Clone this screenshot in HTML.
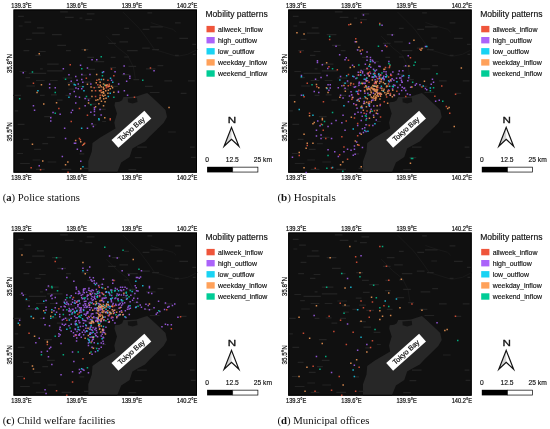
<!DOCTYPE html>
<html lang="en"><head><meta charset="utf-8"><title>Mobility patterns around public facilities</title>
<style>
html,body{margin:0;padding:0;background:#fff}
body{width:550px;height:429px;overflow:hidden}
svg{display:block}
.ax{font-family:"Liberation Sans",Arial,sans-serif;font-size:6.4px;fill:#111;stroke:#111;stroke-width:.2px}
.lt{font-family:"Liberation Sans",Arial,sans-serif;font-size:8.55px;fill:#111;stroke:#111;stroke-width:.15px}
.ll{font-family:"Liberation Sans",Arial,sans-serif;font-size:6.95px;fill:#111;stroke:#111;stroke-width:.15px}
.sb{font-family:"Liberation Sans",Arial,sans-serif;font-size:6.7px;fill:#111;stroke:#111;stroke-width:.15px}
.nn{font-family:"Liberation Sans",Arial,sans-serif;font-size:10.4px;fill:#111;stroke:#111;stroke-width:.35px}
.tb{font-family:"Liberation Sans",Arial,sans-serif;font-size:7.2px;fill:#111;stroke:#111;stroke-width:.2px}
.cap{font-family:"Liberation Serif","DejaVu Serif",serif;font-size:10.2px;fill:#111}
.cap tspan{font-weight:bold}
</style></head><body>
<svg width="550" height="429" viewBox="0 0 550 429">
<rect width="550" height="429" fill="#fff"/>
<defs>
<g id="base">
<rect x="0" y="0" width="183.5" height="163.2" fill="#101010"/>
<polygon fill="#272727" points="110,87.6 115.2,87.6 122.8,86.9 130.4,84.4 133.7,83.6 138,87.2 146.8,95.5 152,100.5 153.5,107.4 150.2,113.2 142.9,120.5 136.4,126.8 131.5,132.1 125.9,134.9 118.9,139.1 116.1,147.5 107.7,153.1 103.5,163.2 74.8,163.2 74.8,151.7 78.3,141.9 79,133.5 86.7,127.9 96.5,122.2 102,119 100.8,113 103.5,104 101,96 101.5,92.8 105.9,92.2 108.6,90.8"/>
<polyline fill="none" stroke="#1c1c1c" stroke-width="0.7" points="109.2,2.4 117.9,11.1 125.7,18.8 134.4,30.4 141.1,40.1 150.8,43 163.4,46.9 174,44.9 183.7,40.1"/>
<polyline fill="none" stroke="#1c1c1c" stroke-width="0.7" points="137.3,13 148.9,16.9 159.5,19.8 162.4,22.7"/>
<polyline fill="none" stroke="#1c1c1c" stroke-width="0.7" points="92.8,26.6 104.4,38.2 114.1,45.9 119.9,57.5 121.8,69.1"/>
<path fill="#232323" d="M4.6 6.2h5.8v1.2h-5.8zM10.9 12h6.8v1.2h-6.8zM5.2 15.9h3.9v1.2h-3.9zM23.5 17.8h6.8v1.2h-6.8zM18.7 23.1h12.6v1.2h-12.6zM12.4 29.3h5.8v1.2h-5.8zM46.6 1.8h7.7v1.2h-7.7zM51.5 7.2h8.7v1.2h-8.7zM66 8h2.9v1.2h-2.9zM73.3 3.7h7.7v1.2h-7.7zM71.8 9.5h6.8v1.2h-6.8zM38.5 24.6h9.7v1.2h-9.7zM43.8 35.2h8.7v1.2h-8.7zM10 40.5h5.8v1.2h-5.8zM25.4 41.4h6.8v1.2h-6.8zM21.8 45.3h5.4v1.2h-5.4zM52.5 40.5h4.8v1.2h-4.8zM68 39.5h6.8v1.2h-6.8zM33.6 54h11.6v1.2h-11.6zM73.8 47.2h6.8v1.2h-6.8zM81 51.5h9.7v1.2h-9.7zM6.1 61.4h6.8v1.2h-6.8zM15.3 63.3h17.4v1.2h-17.4zM33.6 60.8h15.5v1.2h-15.5zM26.4 58.8h2.9v1.2h-2.9zM74.7 59.2h6.8v1.2h-6.8zM11.9 67.5h4.8v1.2h-4.8zM22.5 70.4h8.7v1.2h-8.7zM36.5 70.4h7.7v1.2h-7.7zM49.1 67.9h9.7v1.2h-9.7zM67.5 65h5.8v1.2h-5.8zM12.9 75.9h8.7v1.2h-8.7zM70.9 72h6.8v1.2h-6.8zM53.9 72.8h7.7v1.2h-7.7zM78.1 77.2h7.7v1.2h-7.7zM64.1 76.2h6.8v1.2h-6.8zM54.9 79.1h5.8v1.2h-5.8zM133.9 2.8h4.8v1.2h-4.8zM161.4 12.8h5.8v1.2h-5.8zM110.7 18.2h4.8v1.2h-4.8zM136.8 16.7h12.6v1.2h-12.6zM129.1 19.2h6.8v1.2h-6.8zM98.6 24.6h7.7v1.2h-7.7zM143.1 27.9h5.8v1.2h-5.8zM165.8 28.3h8.7v1.2h-8.7zM105.9 31.8h8.7v1.2h-8.7zM94.7 33.3h7.7v1.2h-7.7zM113.6 40.5h10.6v1.2h-10.6zM128.6 38.1h7.7v1.2h-7.7zM138.7 39.5h6.8v1.2h-6.8zM178.8 34.3h3.9v1.2h-3.9zM161.4 45.3h3.9v1.2h-3.9zM110.7 46.9h4.8v1.2h-4.8zM97.2 47.2h4.8v1.2h-4.8zM179.3 44.3h2.9v1.2h-2.9zM144 55.6h5.8v1.2h-5.8zM115 56.3h7.7v1.2h-7.7zM132.4 58.8h9.7v1.2h-9.7zM96.7 57.5h5.8v1.2h-5.8zM108.3 64.6h7.7v1.2h-7.7zM150.8 70.8h7.7v1.2h-7.7zM174.5 70.8h6.8v1.2h-6.8zM119.9 69.5h5.8v1.2h-5.8zM98.6 76.2h5.8v1.2h-5.8zM131.5 76.2h7.7v1.2h-7.7zM-0.2 85.2h7.7v1.2h-7.7zM26.4 85.2h4.8v1.2h-4.8zM37.5 84.8h5.8v1.2h-5.8zM52 85.2h5.8v1.2h-5.8zM43.3 90h5.8v1.2h-5.8zM70.9 88.6h6.8v1.2h-6.8zM75.2 94h7.7v1.2h-7.7zM0.8 100.8h3.9v1.2h-3.9zM85.4 99.3h6.8v1.2h-6.8zM30.7 106.6h7.7v1.2h-7.7zM88.7 111.4h3.9v1.2h-3.9zM4.2 114.2h6.8v1.2h-6.8zM77.1 114.7h5.8v1.2h-5.8zM33.6 127.3h7.7v1.2h-7.7zM9.5 129.2h5.8v1.2h-5.8zM28.8 133.5h5.8v1.2h-5.8zM20.6 139.3h6.8v1.2h-6.8zM3.7 143.4h5.8v1.2h-5.8zM66 143.7h4.8v1.2h-4.8zM19.1 149.9h7.7v1.2h-7.7zM34.1 151.9h8.7v1.2h-8.7zM6.6 153.4h9.7v1.2h-9.7zM22.5 159.2h8.7v1.2h-8.7zM48.1 159.2h9.7v1.2h-9.7zM70.4 158.2h5.8v1.2h-5.8zM136.3 82.4h9.7v1.2h-9.7zM167.2 83.2h5.8v1.2h-5.8zM154.7 121.9h7.7v1.2h-7.7zM123.7 137h9.7v1.2h-9.7zM176.4 137h4.8v1.2h-4.8zM121.3 147.6h6.8v1.2h-6.8zM177.4 147.2h4.8v1.2h-4.8zM115 159.6h7.7v1.2h-7.7z"/>
<polygon fill="#131313" points="114.3,89 123.5,88.2 124,92.6 119,93.9 114.5,92.8"/>
<rect x="0.5" y="0.5" width="182.5" height="162.2" fill="none" stroke="#000" stroke-width="1"/>
</g>
<g id="side">
<text class="lt" x="192" y="7.8">Mobility patterns</text>
<rect x="193" y="16.4" width="8.2" height="6.4" fill="#EF553B"/><text class="ll" x="204.5" y="22">allweek_inflow</text>
<rect x="193" y="27.5" width="8.2" height="6.4" fill="#AB63FA"/><text class="ll" x="204.5" y="33.1">high_outflow</text>
<rect x="193" y="38.6" width="8.2" height="6.4" fill="#19D3F3"/><text class="ll" x="204.5" y="44.2">low_outflow</text>
<rect x="193" y="49.7" width="8.2" height="6.4" fill="#FFA15A"/><text class="ll" x="204.5" y="55.3">weekday_inflow</text>
<rect x="193" y="60.8" width="8.2" height="6.4" fill="#00CC96"/><text class="ll" x="204.5" y="66.4">weekend_inflow</text>
<text class="nn" transform="translate(218.5,113.2) scale(1.12,0.95)" text-anchor="middle">N</text>
<polygon points="218,117.9 210.6,136.7 218,129.9" fill="#d6d6d6"/>
<polygon points="218,117.9 225.4,136.7 218,129.9 210.6,136.7" fill="none" stroke="#111" stroke-width="1.2" stroke-linejoin="miter" stroke-miterlimit="10"/>
<rect x="193.6" y="157.3" width="25.6" height="5.6" fill="#000"/>
<rect x="219.2" y="157.65" width="25.2" height="4.9" fill="#fff" stroke="#000" stroke-width="0.7"/>
<text class="sb" x="193.7" y="152.5" text-anchor="middle">0</text><text class="sb" x="218.8" y="152.5" text-anchor="middle">12.5</text><text class="sb" x="240.3" y="152.5">25 km</text>
</g>
</defs>
<g transform="translate(13.5,9.5)">
<use href="#base"/>
<path fill="#AB63FA" fill-opacity="0.82" d="M77.8 49.4h1.5v1.5h-1.5zM82.5 49.4h1.5v1.5h-1.5zM49.1 58.6h1.5v1.5h-1.5zM9 62.5h1.5v1.5h-1.5zM54.7 64.4h1.5v1.5h-1.5zM57 71h1.5v1.5h-1.5zM35.4 73.9h1.5v1.5h-1.5zM35.4 77.6h1.5v1.5h-1.5zM41 77.6h1.5v1.5h-1.5zM60 81.3h1.5v1.5h-1.5zM55.8 83.5h1.5v1.5h-1.5zM19.2 95.4h1.5v1.5h-1.5zM20.3 100.1h1.5v1.5h-1.5zM38.8 102.2h1.5v1.5h-1.5zM45.9 104h1.5v1.5h-1.5zM58.3 100.1h1.5v1.5h-1.5zM57 102.2h1.5v1.5h-1.5zM36.5 107.6h1.5v1.5h-1.5zM66.3 55.1h1.5v1.5h-1.5zM73.2 57.8h1.5v1.5h-1.5zM89.3 61.5h1.5v1.5h-1.5zM67.6 64.3h1.5v1.5h-1.5zM75.7 64.2h1.5v1.5h-1.5zM61.5 66.2h1.5v1.5h-1.5zM67.5 69.2h1.5v1.5h-1.5zM62.8 70.1h1.5v1.5h-1.5zM68.6 72.1h1.5v1.5h-1.5zM64 73.7h1.5v1.5h-1.5zM76.6 73.7h1.5v1.5h-1.5zM61.7 77.8h1.5v1.5h-1.5zM64 78.6h1.5v1.5h-1.5zM67.5 78.6h1.5v1.5h-1.5zM109.9 55.8h1.5v1.5h-1.5zM100.8 61.6h1.5v1.5h-1.5zM109.7 63.6h1.5v1.5h-1.5zM115.6 66h1.5v1.5h-1.5zM115.6 68.1h1.5v1.5h-1.5zM97.3 70.1h1.5v1.5h-1.5zM112.4 71.1h1.5v1.5h-1.5zM104.4 73.7h1.5v1.5h-1.5zM110.1 80.4h1.5v1.5h-1.5zM104.2 81.2h1.5v1.5h-1.5zM61.5 86.2h1.5v1.5h-1.5zM65.2 87.1h1.5v1.5h-1.5zM70.9 88.2h1.5v1.5h-1.5zM74.3 89.9h1.5v1.5h-1.5zM61.5 92.7h1.5v1.5h-1.5zM70.9 95.6h1.5v1.5h-1.5zM80.2 97.4h1.5v1.5h-1.5zM80.2 99.3h1.5v1.5h-1.5zM85.8 99.3h1.5v1.5h-1.5zM80.2 101.2h1.5v1.5h-1.5zM76.6 102.1h1.5v1.5h-1.5zM80.2 104.8h1.5v1.5h-1.5zM86.9 104.8h1.5v1.5h-1.5zM104.2 82.1h1.5v1.5h-1.5zM113.3 85.1h1.5v1.5h-1.5zM139.8 60.4h1.5v1.5h-1.5zM36.5 110.7h1.5v1.5h-1.5zM50.4 118h1.5v1.5h-1.5zM51.3 128.2h1.5v1.5h-1.5zM60.2 133.1h1.5v1.5h-1.5zM48.1 146.2h1.5v1.5h-1.5zM25 155.5h1.5v1.5h-1.5zM77.8 113.6h1.5v1.5h-1.5zM79.1 116.2h1.5v1.5h-1.5zM73.2 118h1.5v1.5h-1.5zM61.4 133.1h1.5v1.5h-1.5zM63.1 138.9h1.5v1.5h-1.5zM66.5 140.8h1.5v1.5h-1.5zM66.5 151h1.5v1.5h-1.5z"/>
<path fill="#19D3F3" fill-opacity="0.82" d="M60 74.2h1.5v1.5h-1.5zM23.7 80.4h1.5v1.5h-1.5zM54.7 87.1h1.5v1.5h-1.5zM88.2 62.2h1.5v1.5h-1.5zM87.1 69.2h1.5v1.5h-1.5zM61.1 74.7h1.5v1.5h-1.5zM68.7 76.6h1.5v1.5h-1.5zM69.7 80.4h1.5v1.5h-1.5zM96.3 68.1h1.5v1.5h-1.5zM98.5 71.9h1.5v1.5h-1.5zM84.6 108.5h1.5v1.5h-1.5zM96 83.1h1.5v1.5h-1.5zM94.1 86.2h1.5v1.5h-1.5zM84.8 109.4h1.5v1.5h-1.5zM67.4 118h1.5v1.5h-1.5zM68.7 156.4h1.5v1.5h-1.5z"/>
<path fill="#00CC96" fill-opacity="0.82" d="M87 46.5h1.5v1.5h-1.5zM18.2 61.7h1.5v1.5h-1.5zM51.3 69.1h1.5v1.5h-1.5zM41 82.2h1.5v1.5h-1.5zM5.4 88.6h1.5v1.5h-1.5zM41 103.1h1.5v1.5h-1.5zM67.5 58.5h1.5v1.5h-1.5zM88.2 65.5h1.5v1.5h-1.5zM90.5 74.7h1.5v1.5h-1.5zM72.2 86.2h1.5v1.5h-1.5zM76.6 94.5h1.5v1.5h-1.5zM99.6 87.1h1.5v1.5h-1.5zM128.5 70.1h1.5v1.5h-1.5z"/>
<path fill="#EF553B" fill-opacity="0.82" d="M56 54.4h1.5v1.5h-1.5zM19.2 73h1.5v1.5h-1.5zM44.6 98.2h1.5v1.5h-1.5zM72.1 68.1h1.5v1.5h-1.5zM82.6 70.1h1.5v1.5h-1.5zM92.1 74.7h1.5v1.5h-1.5zM80 77.6h1.5v1.5h-1.5zM92.1 77.6h1.5v1.5h-1.5zM81.3 80.4h1.5v1.5h-1.5zM86.9 79.9h1.5v1.5h-1.5zM97.2 58.7h1.5v1.5h-1.5zM99.6 65.4h1.5v1.5h-1.5zM93.7 70.1h1.5v1.5h-1.5zM95 74h1.5v1.5h-1.5zM94.1 76.6h1.5v1.5h-1.5zM81.3 86.2h1.5v1.5h-1.5zM85.9 85h1.5v1.5h-1.5zM65.2 98.2h1.5v1.5h-1.5zM73.2 105h1.5v1.5h-1.5zM120.2 87.1h1.5v1.5h-1.5zM96 108.5h1.5v1.5h-1.5zM136.2 57.8h1.5v1.5h-1.5zM57 111.3h1.5v1.5h-1.5zM16.9 157.4h1.5v1.5h-1.5zM26.3 159.4h1.5v1.5h-1.5zM53.8 161.9h1.5v1.5h-1.5zM96 109.4h1.5v1.5h-1.5zM65.2 128.2h1.5v1.5h-1.5zM66.1 129.5h1.5v1.5h-1.5zM70.4 133.1h1.5v1.5h-1.5zM68.4 135h1.5v1.5h-1.5zM95.2 76h1.5v1.5h-1.5zM83.6 74.4h1.5v1.5h-1.5zM86.5 80.4h1.5v1.5h-1.5zM92.8 76.6h1.5v1.5h-1.5z"/>
<path fill="#FFA15A" fill-opacity="0.82" d="M25 43.6h1.5v1.5h-1.5zM70.7 39.7h1.5v1.5h-1.5zM27.2 74.6h1.5v1.5h-1.5zM54.7 74.6h1.5v1.5h-1.5zM22.8 82.2h1.5v1.5h-1.5zM29.5 93.7h1.5v1.5h-1.5zM42.3 92.4h1.5v1.5h-1.5zM82.4 64.3h1.5v1.5h-1.5zM84.8 69.2h1.5v1.5h-1.5zM89.3 69.2h1.5v1.5h-1.5zM82 72.4h1.5v1.5h-1.5zM85.9 72.1h1.5v1.5h-1.5zM73.2 73.9h1.5v1.5h-1.5zM89.3 73.7h1.5v1.5h-1.5zM76.8 76.8h1.5v1.5h-1.5zM86.9 76.6h1.5v1.5h-1.5zM89.3 78.9h1.5v1.5h-1.5zM77.7 80.4h1.5v1.5h-1.5zM85.3 80.5h1.5v1.5h-1.5zM91.5 80.5h1.5v1.5h-1.5zM93.1 74.7h1.5v1.5h-1.5zM97.3 76h1.5v1.5h-1.5zM98.3 77.6h1.5v1.5h-1.5zM96 78.6h1.5v1.5h-1.5zM94.1 79.9h1.5v1.5h-1.5zM87.2 82.3h1.5v1.5h-1.5zM89.5 83.1h1.5v1.5h-1.5zM77.7 86.2h1.5v1.5h-1.5zM88.2 85h1.5v1.5h-1.5zM90.8 85h1.5v1.5h-1.5zM85.9 87.3h1.5v1.5h-1.5zM89.5 88.6h1.5v1.5h-1.5zM91.8 88h1.5v1.5h-1.5zM81.7 89.9h1.5v1.5h-1.5zM83.6 89.6h1.5v1.5h-1.5zM87.2 90.9h1.5v1.5h-1.5zM90.8 91.6h1.5v1.5h-1.5zM74.3 92.7h1.5v1.5h-1.5zM84.6 93.5h1.5v1.5h-1.5zM89.3 95.5h1.5v1.5h-1.5zM81.3 96.5h1.5v1.5h-1.5zM90.5 107.6h1.5v1.5h-1.5zM93.7 83.1h1.5v1.5h-1.5zM99.6 82.1h1.5v1.5h-1.5zM154.8 97.3h1.5v1.5h-1.5zM18.2 134.1h1.5v1.5h-1.5zM28.5 150.8h1.5v1.5h-1.5zM53.6 151.7h1.5v1.5h-1.5zM51.3 154.6h1.5v1.5h-1.5zM61.4 130.3h1.5v1.5h-1.5zM66.5 131.6h1.5v1.5h-1.5zM69.5 134.1h1.5v1.5h-1.5zM66.5 158.5h1.5v1.5h-1.5zM88.5 82.3h1.5v1.5h-1.5zM89.1 81.5h1.5v1.5h-1.5zM94.7 75.7h1.5v1.5h-1.5zM89.2 86h1.5v1.5h-1.5zM89.2 82.1h1.5v1.5h-1.5zM89.1 77h1.5v1.5h-1.5zM89.6 78.6h1.5v1.5h-1.5zM86 74.9h1.5v1.5h-1.5zM91.7 75.4h1.5v1.5h-1.5zM91.1 75.3h1.5v1.5h-1.5zM84.8 77h1.5v1.5h-1.5zM85.7 88.4h1.5v1.5h-1.5z"/>
<g transform="translate(117.9,119.8) rotate(-41.7)"><rect x="-22" y="-5.2" width="44" height="10.4" fill="#fff"/><text class="tb" x="0" y="2.3" text-anchor="middle">Tokyo Bay</text></g>
<text class="ax" transform="translate(8,-1.8) scale(0.89,1)" text-anchor="middle">139.3°E</text><text class="ax" transform="translate(8,170.6) scale(0.89,1)" text-anchor="middle">139.3°E</text>
<text class="ax" transform="translate(63.2,-1.8) scale(0.89,1)" text-anchor="middle">139.6°E</text><text class="ax" transform="translate(63.2,170.6) scale(0.89,1)" text-anchor="middle">139.6°E</text>
<text class="ax" transform="translate(118.4,-1.8) scale(0.89,1)" text-anchor="middle">139.9°E</text><text class="ax" transform="translate(118.4,170.6) scale(0.89,1)" text-anchor="middle">139.9°E</text>
<text class="ax" transform="translate(173.6,-1.8) scale(0.89,1)" text-anchor="middle">140.2°E</text><text class="ax" transform="translate(173.6,170.6) scale(0.89,1)" text-anchor="middle">140.2°E</text>
<text class="ax" transform="translate(-1.4,54.1) rotate(-90) scale(0.98,1.05)" text-anchor="middle">35.8°N</text>
<text class="ax" transform="translate(-1.4,122.3) rotate(-90) scale(0.98,1.05)" text-anchor="middle">35.5°N</text>
<use href="#side"/>
<text class="cap" transform="translate(-10.8,191.3) scale(1.05,1)">(<tspan>a</tspan>) Police stations</text>
</g>
<g transform="translate(288.2,9.5)">
<use href="#base"/>
<path fill="#AB63FA" fill-opacity="0.82" d="M47.1 35.9h1.5v1.5h-1.5zM50.7 44.5h1.5v1.5h-1.5zM57.3 47.4h1.5v1.5h-1.5zM56.1 49.4h1.5v1.5h-1.5zM28.5 50.4h1.5v1.5h-1.5zM28.5 52.3h1.5v1.5h-1.5zM74.5 4.8h1.5v1.5h-1.5zM93.1 15h1.5v1.5h-1.5zM103.3 24.8h1.5v1.5h-1.5zM66.4 31.4h1.5v1.5h-1.5zM120.6 33.1h1.5v1.5h-1.5zM96.3 35.3h1.5v1.5h-1.5zM68.7 39.7h1.5v1.5h-1.5zM93.1 40.6h1.5v1.5h-1.5zM78.1 41.7h1.5v1.5h-1.5zM72.3 43.6h1.5v1.5h-1.5zM119.3 45.5h1.5v1.5h-1.5zM78.1 46.4h1.5v1.5h-1.5zM81.5 47.2h1.5v1.5h-1.5zM78.1 50h1.5v1.5h-1.5zM81.5 49.4h1.5v1.5h-1.5zM83.5 50h1.5v1.5h-1.5zM84.1 51.3h1.5v1.5h-1.5zM86 52.6h1.5v1.5h-1.5zM99.9 51.3h1.5v1.5h-1.5zM136.5 36.2h1.5v1.5h-1.5zM33.4 54.4h1.5v1.5h-1.5zM38.8 58.2h1.5v1.5h-1.5zM12.5 65.3h1.5v1.5h-1.5zM38.1 65.3h1.5v1.5h-1.5zM32.1 67.2h1.5v1.5h-1.5zM51.6 66.2h1.5v1.5h-1.5zM26.6 69.1h1.5v1.5h-1.5zM58.6 70.8h1.5v1.5h-1.5zM39.1 74.6h1.5v1.5h-1.5zM41.3 74.6h1.5v1.5h-1.5zM52.9 75.5h1.5v1.5h-1.5zM49.3 77.4h1.5v1.5h-1.5zM41.3 77.8h1.5v1.5h-1.5zM56.1 78.1h1.5v1.5h-1.5zM25.3 81.3h1.5v1.5h-1.5zM29.8 82.2h1.5v1.5h-1.5zM40 80h1.5v1.5h-1.5zM12.5 84.9h1.5v1.5h-1.5zM51.6 85.1h1.5v1.5h-1.5zM54.1 87.7h1.5v1.5h-1.5zM60.5 85.8h1.5v1.5h-1.5zM59.5 91.5h1.5v1.5h-1.5zM54.1 105h1.5v1.5h-1.5zM143.5 69.1h1.5v1.5h-1.5zM144.6 71.9h1.5v1.5h-1.5zM127.5 73.6h1.5v1.5h-1.5zM126.3 74.9h1.5v1.5h-1.5zM131 74.6h1.5v1.5h-1.5zM142.3 74h1.5v1.5h-1.5zM136.5 78.3h1.5v1.5h-1.5zM137.8 79.6h1.5v1.5h-1.5zM146.7 90.9h1.5v1.5h-1.5zM150.3 89.9h1.5v1.5h-1.5zM28.8 110.7h1.5v1.5h-1.5zM47.1 110.3h1.5v1.5h-1.5zM42.6 113.2h1.5v1.5h-1.5zM52.9 112.6h1.5v1.5h-1.5zM31.1 115.4h1.5v1.5h-1.5zM39.1 116.2h1.5v1.5h-1.5zM27.5 120h1.5v1.5h-1.5zM56.1 120h1.5v1.5h-1.5zM32.1 124.8h1.5v1.5h-1.5zM27.5 125.7h1.5v1.5h-1.5zM32.1 128.2h1.5v1.5h-1.5zM42.6 128.2h1.5v1.5h-1.5zM58.6 138.9h1.5v1.5h-1.5zM39.1 139.5h1.5v1.5h-1.5zM45.8 141.4h1.5v1.5h-1.5zM55 141.4h1.5v1.5h-1.5zM3.5 146.9h1.5v1.5h-1.5zM49.4 146.2h1.5v1.5h-1.5zM17.2 162.3h1.5v1.5h-1.5zM72.3 110.3h1.5v1.5h-1.5zM87.3 109.8h1.5v1.5h-1.5zM68.7 115.2h1.5v1.5h-1.5zM77.1 114.5h1.5v1.5h-1.5zM83.9 115.2h1.5v1.5h-1.5zM75.8 117.5h1.5v1.5h-1.5zM73.5 118.4h1.5v1.5h-1.5zM77.1 121.3h1.5v1.5h-1.5zM71 123.1h1.5v1.5h-1.5zM74.5 122.2h1.5v1.5h-1.5zM67.7 131.8h1.5v1.5h-1.5zM65.5 135.7h1.5v1.5h-1.5zM73.5 137.2h1.5v1.5h-1.5zM65.5 138.9h1.5v1.5h-1.5zM62.1 140.1h1.5v1.5h-1.5zM64.3 144.9h1.5v1.5h-1.5zM66.2 144h1.5v1.5h-1.5zM63.6 54.9h1.5v1.5h-1.5zM72.1 60.2h1.5v1.5h-1.5zM73.7 61.2h1.5v1.5h-1.5zM76.4 54.1h1.5v1.5h-1.5zM78 58.3h1.5v1.5h-1.5zM81.8 57.1h1.5v1.5h-1.5zM90 56h1.5v1.5h-1.5zM87.5 59.7h1.5v1.5h-1.5zM84.6 59h1.5v1.5h-1.5zM91.1 56.2h1.5v1.5h-1.5zM97.1 61.6h1.5v1.5h-1.5zM113.9 60.5h1.5v1.5h-1.5zM110.3 60.7h1.5v1.5h-1.5zM116.7 55.6h1.5v1.5h-1.5zM65 66.5h1.5v1.5h-1.5zM69.3 62.1h1.5v1.5h-1.5zM73.6 62.8h1.5v1.5h-1.5zM79.2 63.7h1.5v1.5h-1.5zM76.7 69.1h1.5v1.5h-1.5zM83.2 67.1h1.5v1.5h-1.5zM86.1 65.7h1.5v1.5h-1.5zM91.7 64.5h1.5v1.5h-1.5zM94.6 67.9h1.5v1.5h-1.5zM95.2 69h1.5v1.5h-1.5zM94.8 65.9h1.5v1.5h-1.5zM103.2 68.5h1.5v1.5h-1.5zM101.8 63.9h1.5v1.5h-1.5zM103.1 68.8h1.5v1.5h-1.5zM103.9 61.8h1.5v1.5h-1.5zM107.6 67.9h1.5v1.5h-1.5zM113.2 66h1.5v1.5h-1.5zM111.9 67.8h1.5v1.5h-1.5zM109.5 63.8h1.5v1.5h-1.5zM119.7 67.6h1.5v1.5h-1.5zM66.5 76.4h1.5v1.5h-1.5zM65.4 76.9h1.5v1.5h-1.5zM70 75.1h1.5v1.5h-1.5zM70.1 72.9h1.5v1.5h-1.5zM70.3 72h1.5v1.5h-1.5zM79.8 76.6h1.5v1.5h-1.5zM77.2 69.9h1.5v1.5h-1.5zM78.6 70.5h1.5v1.5h-1.5zM86.7 71.9h1.5v1.5h-1.5zM86.2 69.6h1.5v1.5h-1.5zM85.8 73.2h1.5v1.5h-1.5zM104.7 74.8h1.5v1.5h-1.5zM106 75.3h1.5v1.5h-1.5zM104.9 70h1.5v1.5h-1.5zM100.4 71.6h1.5v1.5h-1.5zM113.3 77.1h1.5v1.5h-1.5zM111.3 74.8h1.5v1.5h-1.5zM112.5 70.1h1.5v1.5h-1.5zM113.3 71.9h1.5v1.5h-1.5zM112.8 71.7h1.5v1.5h-1.5zM118.9 70.4h1.5v1.5h-1.5zM121.7 77.1h1.5v1.5h-1.5zM62.7 84.8h1.5v1.5h-1.5zM62.1 81.4h1.5v1.5h-1.5zM62.8 84.4h1.5v1.5h-1.5zM68.8 81.2h1.5v1.5h-1.5zM68.8 83.2h1.5v1.5h-1.5zM76 82.9h1.5v1.5h-1.5zM71.7 80.4h1.5v1.5h-1.5zM71.6 80.7h1.5v1.5h-1.5zM81.4 84.5h1.5v1.5h-1.5zM78.9 83.1h1.5v1.5h-1.5zM84.8 79.5h1.5v1.5h-1.5zM88.2 82.3h1.5v1.5h-1.5zM91.7 84h1.5v1.5h-1.5zM84.5 82.9h1.5v1.5h-1.5zM90.7 84h1.5v1.5h-1.5zM99.6 79.8h1.5v1.5h-1.5zM103.6 78.8h1.5v1.5h-1.5zM105.5 85.2h1.5v1.5h-1.5zM101.2 84.7h1.5v1.5h-1.5zM112.7 80.3h1.5v1.5h-1.5zM108.9 77.3h1.5v1.5h-1.5zM115 78.3h1.5v1.5h-1.5zM110.3 83.8h1.5v1.5h-1.5zM116.8 80.2h1.5v1.5h-1.5zM118.5 83.7h1.5v1.5h-1.5zM115.6 77.8h1.5v1.5h-1.5zM121.1 84.4h1.5v1.5h-1.5zM68.2 90.2h1.5v1.5h-1.5zM64 87.2h1.5v1.5h-1.5zM75.2 91.2h1.5v1.5h-1.5zM71.3 88h1.5v1.5h-1.5zM69.5 89.1h1.5v1.5h-1.5zM82.8 90.3h1.5v1.5h-1.5zM84.1 89.8h1.5v1.5h-1.5zM64.8 93.5h1.5v1.5h-1.5zM68.1 97.9h1.5v1.5h-1.5zM67.5 94.5h1.5v1.5h-1.5zM74.7 93.3h1.5v1.5h-1.5zM73.4 97.4h1.5v1.5h-1.5zM80.1 94.4h1.5v1.5h-1.5zM80.5 93.4h1.5v1.5h-1.5zM82.2 99.1h1.5v1.5h-1.5zM80.5 96h1.5v1.5h-1.5zM84.8 95.8h1.5v1.5h-1.5zM91.2 95.2h1.5v1.5h-1.5zM66 103.7h1.5v1.5h-1.5zM65.9 104h1.5v1.5h-1.5zM72.2 102.3h1.5v1.5h-1.5zM73.3 106.1h1.5v1.5h-1.5zM69.1 102.1h1.5v1.5h-1.5zM77.4 103.7h1.5v1.5h-1.5zM81.1 102.5h1.5v1.5h-1.5zM77.6 108.3h1.5v1.5h-1.5zM88.7 103.6h1.5v1.5h-1.5zM84.6 105.1h1.5v1.5h-1.5zM91.4 77.7h1.5v1.5h-1.5zM76.2 73h1.5v1.5h-1.5zM87.5 66.8h1.5v1.5h-1.5zM90.9 71.1h1.5v1.5h-1.5zM96.8 66.4h1.5v1.5h-1.5zM84.1 66.4h1.5v1.5h-1.5zM75.6 65h1.5v1.5h-1.5zM74.7 72.9h1.5v1.5h-1.5zM84.5 67.3h1.5v1.5h-1.5zM83.2 66.7h1.5v1.5h-1.5zM102.1 70.8h1.5v1.5h-1.5zM94.2 67.4h1.5v1.5h-1.5zM80.3 65.7h1.5v1.5h-1.5zM67 68.3h1.5v1.5h-1.5zM97.2 63.9h1.5v1.5h-1.5zM69.5 65.1h1.5v1.5h-1.5zM81.6 63.2h1.5v1.5h-1.5zM86.3 60.7h1.5v1.5h-1.5zM85.5 62.9h1.5v1.5h-1.5zM86.7 66.2h1.5v1.5h-1.5zM75.7 73.2h1.5v1.5h-1.5zM95 61.3h1.5v1.5h-1.5zM90.3 66.4h1.5v1.5h-1.5zM78.4 63.2h1.5v1.5h-1.5zM93.9 68.3h1.5v1.5h-1.5zM90 68.6h1.5v1.5h-1.5zM77.7 68.1h1.5v1.5h-1.5zM110.8 67.7h1.5v1.5h-1.5zM95.1 69.6h1.5v1.5h-1.5zM89.7 64.6h1.5v1.5h-1.5z"/>
<path fill="#19D3F3" fill-opacity="0.82" d="M81.5 51.3h1.5v1.5h-1.5zM137.8 36.2h1.5v1.5h-1.5zM12.5 66.6h1.5v1.5h-1.5zM57.7 65.5h1.5v1.5h-1.5zM50.9 69.8h1.5v1.5h-1.5zM56.1 73h1.5v1.5h-1.5zM38.1 78.3h1.5v1.5h-1.5zM14.4 84.9h1.5v1.5h-1.5zM55 95.4h1.5v1.5h-1.5zM10.3 99.2h1.5v1.5h-1.5zM24 105h1.5v1.5h-1.5zM134.3 75.8h1.5v1.5h-1.5zM141.4 77.8h1.5v1.5h-1.5zM43.6 157.2h1.5v1.5h-1.5zM86 113.6h1.5v1.5h-1.5zM64.3 118.7h1.5v1.5h-1.5zM75.8 120.3h1.5v1.5h-1.5zM79 120.9h1.5v1.5h-1.5zM80.1 56.1h1.5v1.5h-1.5zM63.9 66.1h1.5v1.5h-1.5zM71.8 64.7h1.5v1.5h-1.5zM90.9 67.9h1.5v1.5h-1.5zM84.5 63.8h1.5v1.5h-1.5zM93.2 68.1h1.5v1.5h-1.5zM120 65.6h1.5v1.5h-1.5zM77.7 76.7h1.5v1.5h-1.5zM87 76h1.5v1.5h-1.5zM85 76.1h1.5v1.5h-1.5zM96.6 73.6h1.5v1.5h-1.5zM99.7 70.6h1.5v1.5h-1.5zM92.4 76h1.5v1.5h-1.5zM104.3 76.5h1.5v1.5h-1.5zM100.6 76h1.5v1.5h-1.5zM108 71.6h1.5v1.5h-1.5zM67.4 81.3h1.5v1.5h-1.5zM94.4 80.9h1.5v1.5h-1.5zM68.5 90h1.5v1.5h-1.5zM76 86.6h1.5v1.5h-1.5zM72.1 97.6h1.5v1.5h-1.5zM85.9 65h1.5v1.5h-1.5zM75.3 69.1h1.5v1.5h-1.5zM89.9 63.6h1.5v1.5h-1.5zM114.6 65.4h1.5v1.5h-1.5zM97.2 66.6h1.5v1.5h-1.5z"/>
<path fill="#00CC96" fill-opacity="0.82" d="M40.7 26.3h1.5v1.5h-1.5zM90.8 14.5h1.5v1.5h-1.5zM89.5 35.9h1.5v1.5h-1.5zM99.9 53.2h1.5v1.5h-1.5zM126.3 51.9h1.5v1.5h-1.5zM43.6 58.6h1.5v1.5h-1.5zM23.1 74.6h1.5v1.5h-1.5zM43.6 102.2h1.5v1.5h-1.5zM125 55h1.5v1.5h-1.5zM148 63.4h1.5v1.5h-1.5zM123.7 71.9h1.5v1.5h-1.5zM144.6 77.4h1.5v1.5h-1.5zM141.4 80.4h1.5v1.5h-1.5zM153.8 90.9h1.5v1.5h-1.5zM35.6 111.3h1.5v1.5h-1.5zM33.4 114.5h1.5v1.5h-1.5zM39.1 145.3h1.5v1.5h-1.5zM37.9 158.1h1.5v1.5h-1.5zM53.9 161h1.5v1.5h-1.5zM77.1 109.8h1.5v1.5h-1.5zM122.5 148.2h1.5v1.5h-1.5zM123.7 148.2h1.5v1.5h-1.5zM69.9 54.7h1.5v1.5h-1.5zM101.1 54.7h1.5v1.5h-1.5zM68 67.7h1.5v1.5h-1.5zM77.8 67.7h1.5v1.5h-1.5zM90.8 65.4h1.5v1.5h-1.5zM85 66.8h1.5v1.5h-1.5zM97.9 65.4h1.5v1.5h-1.5zM93 62.8h1.5v1.5h-1.5zM71.9 73.3h1.5v1.5h-1.5zM77.1 76.8h1.5v1.5h-1.5zM103.7 76h1.5v1.5h-1.5zM79.4 84.8h1.5v1.5h-1.5zM80.3 94.9h1.5v1.5h-1.5zM83.2 100.9h1.5v1.5h-1.5zM76.5 105.4h1.5v1.5h-1.5zM77.3 105.9h1.5v1.5h-1.5zM85.3 60.3h1.5v1.5h-1.5z"/>
<path fill="#EF553B" fill-opacity="0.82" d="M59.9 14.4h1.5v1.5h-1.5zM40.7 29.2h1.5v1.5h-1.5zM11.5 41.7h1.5v1.5h-1.5zM59.5 50h1.5v1.5h-1.5zM72.3 12.2h1.5v1.5h-1.5zM90.8 13.2h1.5v1.5h-1.5zM66.8 28.5h1.5v1.5h-1.5zM97.8 36.2h1.5v1.5h-1.5zM73.5 39.7h1.5v1.5h-1.5zM121.5 47.4h1.5v1.5h-1.5zM131 39.1h1.5v1.5h-1.5zM40 56.6h1.5v1.5h-1.5zM48.4 59.5h1.5v1.5h-1.5zM59.5 64.3h1.5v1.5h-1.5zM18.3 73h1.5v1.5h-1.5zM27.9 76.6h1.5v1.5h-1.5zM59.3 75.5h1.5v1.5h-1.5zM15.1 86.4h1.5v1.5h-1.5zM34.5 91.5h1.5v1.5h-1.5zM20.6 103.1h1.5v1.5h-1.5zM133 76.8h1.5v1.5h-1.5zM152.8 75.8h1.5v1.5h-1.5zM166.6 84.1h1.5v1.5h-1.5zM145.9 86h1.5v1.5h-1.5zM157.4 96.3h1.5v1.5h-1.5zM160.8 103.1h1.5v1.5h-1.5zM57.3 110.7h1.5v1.5h-1.5zM32.4 114.1h1.5v1.5h-1.5zM34.3 120h1.5v1.5h-1.5zM52.9 126.4h1.5v1.5h-1.5zM36.8 128.2h1.5v1.5h-1.5zM18.3 135.3h1.5v1.5h-1.5zM55 136.7h1.5v1.5h-1.5zM50.7 144.4h1.5v1.5h-1.5zM10.3 145.3h1.5v1.5h-1.5zM58.6 149.1h1.5v1.5h-1.5zM26.3 158.1h1.5v1.5h-1.5zM42.6 157.7h1.5v1.5h-1.5zM68.7 113.2h1.5v1.5h-1.5zM80.3 115.2h1.5v1.5h-1.5zM68.7 125.4h1.5v1.5h-1.5zM70 135h1.5v1.5h-1.5zM78.4 58.3h1.5v1.5h-1.5zM96.5 57.3h1.5v1.5h-1.5zM100.8 55.7h1.5v1.5h-1.5zM100.4 57.3h1.5v1.5h-1.5zM69.6 64.5h1.5v1.5h-1.5zM79.4 62.6h1.5v1.5h-1.5zM80.8 61.8h1.5v1.5h-1.5zM79.1 63.4h1.5v1.5h-1.5zM91.7 65.1h1.5v1.5h-1.5zM85.8 63.2h1.5v1.5h-1.5zM99.6 66.7h1.5v1.5h-1.5zM101.8 64.9h1.5v1.5h-1.5zM102.5 65.2h1.5v1.5h-1.5zM64.6 73.7h1.5v1.5h-1.5zM61.6 74.7h1.5v1.5h-1.5zM75.6 77.1h1.5v1.5h-1.5zM73.6 73.5h1.5v1.5h-1.5zM77.2 76.2h1.5v1.5h-1.5zM80.1 72.1h1.5v1.5h-1.5zM87.3 73.4h1.5v1.5h-1.5zM85.5 73h1.5v1.5h-1.5zM99.6 73.8h1.5v1.5h-1.5zM69.9 80h1.5v1.5h-1.5zM69.6 83.9h1.5v1.5h-1.5zM77.8 78.6h1.5v1.5h-1.5zM80.4 79h1.5v1.5h-1.5zM88.9 77.3h1.5v1.5h-1.5zM101.5 83.3h1.5v1.5h-1.5zM100.3 80.4h1.5v1.5h-1.5zM107.9 81h1.5v1.5h-1.5zM62.9 88.9h1.5v1.5h-1.5zM69.1 89.5h1.5v1.5h-1.5zM80.2 91.6h1.5v1.5h-1.5zM87.5 87.4h1.5v1.5h-1.5zM97.7 86.8h1.5v1.5h-1.5zM95.3 91.6h1.5v1.5h-1.5zM116.8 86.2h1.5v1.5h-1.5zM67.1 94.8h1.5v1.5h-1.5zM78.1 100.7h1.5v1.5h-1.5zM91.4 94.3h1.5v1.5h-1.5zM85.5 100.4h1.5v1.5h-1.5zM65.5 107.8h1.5v1.5h-1.5zM75.2 102.9h1.5v1.5h-1.5zM91.6 106.7h1.5v1.5h-1.5zM87.9 77.8h1.5v1.5h-1.5zM91.3 84.8h1.5v1.5h-1.5zM90.5 82.9h1.5v1.5h-1.5zM88.4 68.5h1.5v1.5h-1.5zM98.7 76h1.5v1.5h-1.5zM90.6 66.8h1.5v1.5h-1.5zM92.1 68.5h1.5v1.5h-1.5z"/>
<path fill="#FFA15A" fill-opacity="0.82" d="M8 22.4h1.5v1.5h-1.5zM15.1 23.7h1.5v1.5h-1.5zM37.7 52.6h1.5v1.5h-1.5zM61.7 14.1h1.5v1.5h-1.5zM67.5 31.4h1.5v1.5h-1.5zM70 36.9h1.5v1.5h-1.5zM71.3 40.8h1.5v1.5h-1.5zM125 30.1h1.5v1.5h-1.5zM133 38.2h1.5v1.5h-1.5zM132 40h1.5v1.5h-1.5zM27.5 74.2h1.5v1.5h-1.5zM29.8 77.4h1.5v1.5h-1.5zM55 75.3h1.5v1.5h-1.5zM37.5 77.4h1.5v1.5h-1.5zM56.4 80.9h1.5v1.5h-1.5zM39.1 82.2h1.5v1.5h-1.5zM50.9 87.1h1.5v1.5h-1.5zM5.7 91.5h1.5v1.5h-1.5zM20.6 105.4h1.5v1.5h-1.5zM33.4 108.2h1.5v1.5h-1.5zM172.4 57.8h1.5v1.5h-1.5zM135.5 71h1.5v1.5h-1.5zM160.2 97.3h1.5v1.5h-1.5zM158.7 98.3h1.5v1.5h-1.5zM33.4 109.4h1.5v1.5h-1.5zM25.3 112.3h1.5v1.5h-1.5zM24 113.6h1.5v1.5h-1.5zM15.1 123.9h1.5v1.5h-1.5zM18.3 133.1h1.5v1.5h-1.5zM24 133.1h1.5v1.5h-1.5zM17.2 138h1.5v1.5h-1.5zM10.3 142.3h1.5v1.5h-1.5zM53.9 151.7h1.5v1.5h-1.5zM51.6 154.6h1.5v1.5h-1.5zM15.1 157.4h1.5v1.5h-1.5zM72.3 124.1h1.5v1.5h-1.5zM66.4 130.8h1.5v1.5h-1.5zM68.7 134.4h1.5v1.5h-1.5zM72.3 156.4h1.5v1.5h-1.5zM121.5 152.9h1.5v1.5h-1.5zM165.3 116.2h1.5v1.5h-1.5zM65.2 56.6h1.5v1.5h-1.5zM61.3 57.2h1.5v1.5h-1.5zM80.8 54.2h1.5v1.5h-1.5zM95.7 59h1.5v1.5h-1.5zM95 59h1.5v1.5h-1.5zM119.9 55.8h1.5v1.5h-1.5zM71.4 62h1.5v1.5h-1.5zM80.2 65.4h1.5v1.5h-1.5zM62 72.9h1.5v1.5h-1.5zM73.1 72.9h1.5v1.5h-1.5zM82.7 77.1h1.5v1.5h-1.5zM76.9 75.6h1.5v1.5h-1.5zM77.4 70.7h1.5v1.5h-1.5zM88.2 70.9h1.5v1.5h-1.5zM90.6 72.9h1.5v1.5h-1.5zM87.4 72.2h1.5v1.5h-1.5zM84.8 75.3h1.5v1.5h-1.5zM86.5 71.4h1.5v1.5h-1.5zM94.4 72.3h1.5v1.5h-1.5zM95.7 73.4h1.5v1.5h-1.5zM92.1 71.5h1.5v1.5h-1.5zM92.4 69.6h1.5v1.5h-1.5zM97.6 76.4h1.5v1.5h-1.5zM97.7 75.8h1.5v1.5h-1.5zM101.6 69.7h1.5v1.5h-1.5zM122.9 76.8h1.5v1.5h-1.5zM78.5 79.4h1.5v1.5h-1.5zM82.1 77.7h1.5v1.5h-1.5zM82.4 82.4h1.5v1.5h-1.5zM83.7 78.3h1.5v1.5h-1.5zM81.6 79.7h1.5v1.5h-1.5zM80 78.4h1.5v1.5h-1.5zM79.2 78h1.5v1.5h-1.5zM88.7 84.3h1.5v1.5h-1.5zM87.5 81.4h1.5v1.5h-1.5zM86.4 79.3h1.5v1.5h-1.5zM85.1 78.5h1.5v1.5h-1.5zM91.6 83h1.5v1.5h-1.5zM87.8 81.7h1.5v1.5h-1.5zM86.1 84.5h1.5v1.5h-1.5zM85.3 79.3h1.5v1.5h-1.5zM92.9 77.9h1.5v1.5h-1.5zM95.1 79.1h1.5v1.5h-1.5zM98.9 81.1h1.5v1.5h-1.5zM99.5 82.9h1.5v1.5h-1.5zM95.9 82.6h1.5v1.5h-1.5zM97.2 84.6h1.5v1.5h-1.5zM94.7 80.6h1.5v1.5h-1.5zM98.2 83.1h1.5v1.5h-1.5zM105 84.8h1.5v1.5h-1.5zM101.5 85h1.5v1.5h-1.5zM63.5 87.3h1.5v1.5h-1.5zM70.3 91.1h1.5v1.5h-1.5zM75.6 92.9h1.5v1.5h-1.5zM78.4 88.5h1.5v1.5h-1.5zM82.3 91.8h1.5v1.5h-1.5zM83.1 87.5h1.5v1.5h-1.5zM82.3 86.7h1.5v1.5h-1.5zM77.7 92.1h1.5v1.5h-1.5zM79.6 93h1.5v1.5h-1.5zM76.9 87.5h1.5v1.5h-1.5zM91 88.7h1.5v1.5h-1.5zM91.6 86h1.5v1.5h-1.5zM86 88.1h1.5v1.5h-1.5zM86.3 89.9h1.5v1.5h-1.5zM84.4 87.7h1.5v1.5h-1.5zM86.7 86.8h1.5v1.5h-1.5zM84.8 86h1.5v1.5h-1.5zM89.3 85.9h1.5v1.5h-1.5zM86.7 89.6h1.5v1.5h-1.5zM98.7 93h1.5v1.5h-1.5zM103.4 86.5h1.5v1.5h-1.5zM72.8 96h1.5v1.5h-1.5zM74.4 100.1h1.5v1.5h-1.5zM72.3 96.5h1.5v1.5h-1.5zM77.5 96.4h1.5v1.5h-1.5zM88.2 100.3h1.5v1.5h-1.5zM88.2 95.5h1.5v1.5h-1.5zM62.4 107.1h1.5v1.5h-1.5zM80.5 107.9h1.5v1.5h-1.5zM81.6 101.1h1.5v1.5h-1.5zM87.4 103h1.5v1.5h-1.5zM84.8 107h1.5v1.5h-1.5zM82.1 81.7h1.5v1.5h-1.5zM87 80.3h1.5v1.5h-1.5zM88.3 79.5h1.5v1.5h-1.5zM85.6 79.8h1.5v1.5h-1.5zM85.1 75.8h1.5v1.5h-1.5zM88.6 83.5h1.5v1.5h-1.5zM75.6 80.2h1.5v1.5h-1.5zM87.4 76.2h1.5v1.5h-1.5zM89.9 82.9h1.5v1.5h-1.5zM85.9 75.9h1.5v1.5h-1.5zM86.3 83.8h1.5v1.5h-1.5zM87.9 79.6h1.5v1.5h-1.5zM85.6 80.7h1.5v1.5h-1.5zM88.6 79.4h1.5v1.5h-1.5zM86.9 81.2h1.5v1.5h-1.5zM85.8 80.4h1.5v1.5h-1.5zM75.7 80.9h1.5v1.5h-1.5zM81.1 84.6h1.5v1.5h-1.5zM84 79.3h1.5v1.5h-1.5zM88.2 80.3h1.5v1.5h-1.5zM84.5 79h1.5v1.5h-1.5zM103.8 80.1h1.5v1.5h-1.5zM83.4 69.8h1.5v1.5h-1.5zM85.6 79.8h1.5v1.5h-1.5zM83.7 75.2h1.5v1.5h-1.5zM82.1 78.1h1.5v1.5h-1.5zM93 80.1h1.5v1.5h-1.5zM88 76.7h1.5v1.5h-1.5zM87.9 85.5h1.5v1.5h-1.5zM92.5 84.1h1.5v1.5h-1.5zM86.9 79.6h1.5v1.5h-1.5zM88.7 75.6h1.5v1.5h-1.5zM86.8 88.2h1.5v1.5h-1.5z"/>
<g transform="translate(117.9,119.8) rotate(-41.7)"><rect x="-22" y="-5.2" width="44" height="10.4" fill="#fff"/><text class="tb" x="0" y="2.3" text-anchor="middle">Tokyo Bay</text></g>
<text class="ax" transform="translate(8,-1.8) scale(0.89,1)" text-anchor="middle">139.3°E</text><text class="ax" transform="translate(8,170.6) scale(0.89,1)" text-anchor="middle">139.3°E</text>
<text class="ax" transform="translate(63.2,-1.8) scale(0.89,1)" text-anchor="middle">139.6°E</text><text class="ax" transform="translate(63.2,170.6) scale(0.89,1)" text-anchor="middle">139.6°E</text>
<text class="ax" transform="translate(118.4,-1.8) scale(0.89,1)" text-anchor="middle">139.9°E</text><text class="ax" transform="translate(118.4,170.6) scale(0.89,1)" text-anchor="middle">139.9°E</text>
<text class="ax" transform="translate(173.6,-1.8) scale(0.89,1)" text-anchor="middle">140.2°E</text><text class="ax" transform="translate(173.6,170.6) scale(0.89,1)" text-anchor="middle">140.2°E</text>
<text class="ax" transform="translate(-1.4,54.1) rotate(-90) scale(0.98,1.05)" text-anchor="middle">35.8°N</text>
<text class="ax" transform="translate(-1.4,122.3) rotate(-90) scale(0.98,1.05)" text-anchor="middle">35.5°N</text>
<use href="#side"/>
<text class="cap" transform="translate(-10.8,191.3) scale(1.09,1)">(<tspan>b</tspan>) Hospitals</text>
</g>
<g transform="translate(13.5,232.5)">
<use href="#base"/>
<path fill="#AB63FA" fill-opacity="0.82" d="M48.1 35.6h1.5v1.5h-1.5zM52.6 44.2h1.5v1.5h-1.5zM59.6 48.1h1.5v1.5h-1.5zM34.2 52.8h1.5v1.5h-1.5zM95.3 22.8h1.5v1.5h-1.5zM103 24.8h1.5v1.5h-1.5zM75.5 33.7h1.5v1.5h-1.5zM68.7 35h1.5v1.5h-1.5zM73.2 36.9h1.5v1.5h-1.5zM107.9 37.6h1.5v1.5h-1.5zM114.6 41.7h1.5v1.5h-1.5zM122.2 44.2h1.5v1.5h-1.5zM75.5 44.2h1.5v1.5h-1.5zM79.1 44.6h1.5v1.5h-1.5zM76.8 46.4h1.5v1.5h-1.5zM89.2 46.1h1.5v1.5h-1.5zM77.8 48.1h1.5v1.5h-1.5zM80 47.4h1.5v1.5h-1.5zM98.5 46.8h1.5v1.5h-1.5zM80 50h1.5v1.5h-1.5zM82.3 50h1.5v1.5h-1.5zM88 51h1.5v1.5h-1.5zM98.5 50h1.5v1.5h-1.5zM84.4 52.6h1.5v1.5h-1.5zM121 52.6h1.5v1.5h-1.5zM127.2 37.6h1.5v1.5h-1.5zM123.4 44.2h1.5v1.5h-1.5zM125.1 45.1h1.5v1.5h-1.5zM126.3 43.8h1.5v1.5h-1.5zM135.2 53.2h1.5v1.5h-1.5zM32.1 56.6h1.5v1.5h-1.5zM7.7 59.9h1.5v1.5h-1.5zM9 62.1h1.5v1.5h-1.5zM37.6 61.7h1.5v1.5h-1.5zM36.5 62.7h1.5v1.5h-1.5zM52.6 61.7h1.5v1.5h-1.5zM57 62.5h1.5v1.5h-1.5zM41 64.3h1.5v1.5h-1.5zM37.8 65.3h1.5v1.5h-1.5zM31.8 67.2h1.5v1.5h-1.5zM51.3 66.6h1.5v1.5h-1.5zM58.3 65.9h1.5v1.5h-1.5zM42.3 70.1h1.5v1.5h-1.5zM50 68.9h1.5v1.5h-1.5zM52.6 69.1h1.5v1.5h-1.5zM53.8 70.4h1.5v1.5h-1.5zM51.9 71h1.5v1.5h-1.5zM58.3 68.9h1.5v1.5h-1.5zM57 71h1.5v1.5h-1.5zM14.8 73h1.5v1.5h-1.5zM31.8 73.9h1.5v1.5h-1.5zM21.6 75.8h1.5v1.5h-1.5zM41 74.6h1.5v1.5h-1.5zM46.8 73.6h1.5v1.5h-1.5zM50 73h1.5v1.5h-1.5zM31.8 76.8h1.5v1.5h-1.5zM39.7 77.4h1.5v1.5h-1.5zM49.1 76.8h1.5v1.5h-1.5zM55.8 76.8h1.5v1.5h-1.5zM54.5 77.8h1.5v1.5h-1.5zM42.3 79.1h1.5v1.5h-1.5zM45.5 81.3h1.5v1.5h-1.5zM58.3 79.4h1.5v1.5h-1.5zM29.5 84.9h1.5v1.5h-1.5zM45.5 83.5h1.5v1.5h-1.5zM51.3 85.1h1.5v1.5h-1.5zM48.1 86.8h1.5v1.5h-1.5zM49.4 86h1.5v1.5h-1.5zM57 85.1h1.5v1.5h-1.5zM5.4 87.1h1.5v1.5h-1.5zM30.8 91.5h1.5v1.5h-1.5zM35.3 92.6h1.5v1.5h-1.5zM48.1 90.9h1.5v1.5h-1.5zM51.3 90.9h1.5v1.5h-1.5zM50 91.9h1.5v1.5h-1.5zM57 90.9h1.5v1.5h-1.5zM54.7 92.6h1.5v1.5h-1.5zM45.5 96h1.5v1.5h-1.5zM46.8 97.3h1.5v1.5h-1.5zM57 97.9h1.5v1.5h-1.5zM44.6 100.5h1.5v1.5h-1.5zM45.9 101.4h1.5v1.5h-1.5zM59.2 99.6h1.5v1.5h-1.5zM44.6 103.1h1.5v1.5h-1.5zM59.6 103.1h1.5v1.5h-1.5zM25 105h1.5v1.5h-1.5zM135.2 54.4h1.5v1.5h-1.5zM123.8 57.8h1.5v1.5h-1.5zM134.3 59.5h1.5v1.5h-1.5zM137.5 60.2h1.5v1.5h-1.5zM123.4 65.3h1.5v1.5h-1.5zM144.3 68.1h1.5v1.5h-1.5zM151.2 69.8h1.5v1.5h-1.5zM160.5 70.8h1.5v1.5h-1.5zM131.7 71h1.5v1.5h-1.5zM134 72.3h1.5v1.5h-1.5zM158.2 72.3h1.5v1.5h-1.5zM127.2 74h1.5v1.5h-1.5zM126 71.7h1.5v1.5h-1.5zM153.5 74h1.5v1.5h-1.5zM154.8 73.2h1.5v1.5h-1.5zM139.8 74.5h1.5v1.5h-1.5zM130.7 75.8h1.5v1.5h-1.5zM135.2 76.6h1.5v1.5h-1.5zM150.3 76.2h1.5v1.5h-1.5zM145.6 78.3h1.5v1.5h-1.5zM143.2 79.4h1.5v1.5h-1.5zM142 80.9h1.5v1.5h-1.5zM163.7 83.9h1.5v1.5h-1.5zM151.2 90.9h1.5v1.5h-1.5zM153.5 91.5h1.5v1.5h-1.5zM157.1 91.5h1.5v1.5h-1.5zM147.7 93.5h1.5v1.5h-1.5zM21.6 109.4h1.5v1.5h-1.5zM46.8 110.3h1.5v1.5h-1.5zM36.5 114.1h1.5v1.5h-1.5zM35.3 115.2h1.5v1.5h-1.5zM33.1 118h1.5v1.5h-1.5zM27.2 118.7h1.5v1.5h-1.5zM58.3 118.7h1.5v1.5h-1.5zM34.2 123.5h1.5v1.5h-1.5zM59.6 128.2h1.5v1.5h-1.5zM37.6 131.2h1.5v1.5h-1.5zM58.3 138.5h1.5v1.5h-1.5zM46.8 141.4h1.5v1.5h-1.5zM30.8 156.4h1.5v1.5h-1.5zM31.8 160.2h1.5v1.5h-1.5zM74.2 109.8h1.5v1.5h-1.5zM80 109.4h1.5v1.5h-1.5zM87 109.8h1.5v1.5h-1.5zM89.2 110.3h1.5v1.5h-1.5zM74.2 112.3h1.5v1.5h-1.5zM77.8 114.1h1.5v1.5h-1.5zM84.8 115.4h1.5v1.5h-1.5zM87 114.1h1.5v1.5h-1.5zM81.2 118.4h1.5v1.5h-1.5zM77.8 120.9h1.5v1.5h-1.5zM65.2 136.3h1.5v1.5h-1.5zM68.7 136.3h1.5v1.5h-1.5zM69.7 136.9h1.5v1.5h-1.5zM66.5 138.5h1.5v1.5h-1.5zM65.2 139.8h1.5v1.5h-1.5zM74.2 139.5h1.5v1.5h-1.5zM64.3 58.1h1.5v1.5h-1.5zM64.7 58.4h1.5v1.5h-1.5zM65.6 60h1.5v1.5h-1.5zM61.5 60.1h1.5v1.5h-1.5zM68.4 61.3h1.5v1.5h-1.5zM62 53.9h1.5v1.5h-1.5zM62.2 55.7h1.5v1.5h-1.5zM64.2 60.4h1.5v1.5h-1.5zM72.4 59h1.5v1.5h-1.5zM76.2 61.6h1.5v1.5h-1.5zM70.9 55.6h1.5v1.5h-1.5zM74.4 56.9h1.5v1.5h-1.5zM75.6 57.4h1.5v1.5h-1.5zM69.1 58.7h1.5v1.5h-1.5zM69.2 56.4h1.5v1.5h-1.5zM69.4 55.7h1.5v1.5h-1.5zM74.7 55.1h1.5v1.5h-1.5zM70 59.5h1.5v1.5h-1.5zM69.4 57.1h1.5v1.5h-1.5zM77.9 56.8h1.5v1.5h-1.5zM77 61.5h1.5v1.5h-1.5zM82.2 56.3h1.5v1.5h-1.5zM76.9 58.3h1.5v1.5h-1.5zM79.1 57.3h1.5v1.5h-1.5zM80.7 60.6h1.5v1.5h-1.5zM83.3 60.2h1.5v1.5h-1.5zM83.1 58.5h1.5v1.5h-1.5zM76.5 61.3h1.5v1.5h-1.5zM78.2 60.2h1.5v1.5h-1.5zM85.4 59.4h1.5v1.5h-1.5zM88.3 60.4h1.5v1.5h-1.5zM87.5 54.2h1.5v1.5h-1.5zM91.6 58.9h1.5v1.5h-1.5zM95 60h1.5v1.5h-1.5zM96.6 56.8h1.5v1.5h-1.5zM97.4 56.8h1.5v1.5h-1.5zM95.2 60.3h1.5v1.5h-1.5zM92 58.5h1.5v1.5h-1.5zM93.7 53.8h1.5v1.5h-1.5zM101.1 55.1h1.5v1.5h-1.5zM102.9 60.8h1.5v1.5h-1.5zM106.3 56.8h1.5v1.5h-1.5zM105 61.2h1.5v1.5h-1.5zM103 55.9h1.5v1.5h-1.5zM107.1 57.3h1.5v1.5h-1.5zM106.3 54.1h1.5v1.5h-1.5zM110.8 53.9h1.5v1.5h-1.5zM108.3 54.1h1.5v1.5h-1.5zM112.6 55.3h1.5v1.5h-1.5zM107.3 57.5h1.5v1.5h-1.5zM109.4 56.5h1.5v1.5h-1.5zM122 54.4h1.5v1.5h-1.5zM122.3 57.4h1.5v1.5h-1.5zM120.6 60.2h1.5v1.5h-1.5zM67.4 64.3h1.5v1.5h-1.5zM65 67.6h1.5v1.5h-1.5zM67 62.1h1.5v1.5h-1.5zM63.3 67.8h1.5v1.5h-1.5zM64.8 67.3h1.5v1.5h-1.5zM68.1 65.5h1.5v1.5h-1.5zM70.2 65.7h1.5v1.5h-1.5zM73.5 65.7h1.5v1.5h-1.5zM70.1 68.3h1.5v1.5h-1.5zM72.9 63.2h1.5v1.5h-1.5zM73.2 61.8h1.5v1.5h-1.5zM71.6 67.9h1.5v1.5h-1.5zM73.9 62.1h1.5v1.5h-1.5zM75.9 68.9h1.5v1.5h-1.5zM79.9 64.1h1.5v1.5h-1.5zM83.4 62.6h1.5v1.5h-1.5zM77.8 63.4h1.5v1.5h-1.5zM79 66.5h1.5v1.5h-1.5zM77.2 65.6h1.5v1.5h-1.5zM80.4 65h1.5v1.5h-1.5zM80.4 62.9h1.5v1.5h-1.5zM81.2 65.8h1.5v1.5h-1.5zM77.9 69.5h1.5v1.5h-1.5zM78.1 67.3h1.5v1.5h-1.5zM90.4 64.9h1.5v1.5h-1.5zM89.3 68.8h1.5v1.5h-1.5zM87.9 67.6h1.5v1.5h-1.5zM85.5 62.2h1.5v1.5h-1.5zM88.3 65.7h1.5v1.5h-1.5zM87.6 67.6h1.5v1.5h-1.5zM88 65h1.5v1.5h-1.5zM89.4 68.2h1.5v1.5h-1.5zM89.7 64.8h1.5v1.5h-1.5zM97.2 68.4h1.5v1.5h-1.5zM97.1 67.6h1.5v1.5h-1.5zM97.4 62.2h1.5v1.5h-1.5zM91.8 64.4h1.5v1.5h-1.5zM93.5 69h1.5v1.5h-1.5zM96.9 66.1h1.5v1.5h-1.5zM107.1 61.8h1.5v1.5h-1.5zM101.5 64.8h1.5v1.5h-1.5zM103.8 65.6h1.5v1.5h-1.5zM107.2 66.6h1.5v1.5h-1.5zM100.7 65.3h1.5v1.5h-1.5zM104.2 62.1h1.5v1.5h-1.5zM103.6 66.3h1.5v1.5h-1.5zM112.3 66h1.5v1.5h-1.5zM109.5 61.7h1.5v1.5h-1.5zM107.8 68.7h1.5v1.5h-1.5zM111.9 62.5h1.5v1.5h-1.5zM116.6 62h1.5v1.5h-1.5zM118.4 66.9h1.5v1.5h-1.5zM119.5 64.9h1.5v1.5h-1.5zM122.7 69.1h1.5v1.5h-1.5zM115.9 68.6h1.5v1.5h-1.5zM63.5 71.6h1.5v1.5h-1.5zM65.3 74.4h1.5v1.5h-1.5zM61.1 69.9h1.5v1.5h-1.5zM65.6 70.3h1.5v1.5h-1.5zM61.4 74.8h1.5v1.5h-1.5zM63.6 73.2h1.5v1.5h-1.5zM66.5 76.1h1.5v1.5h-1.5zM67 74.4h1.5v1.5h-1.5zM64 71.5h1.5v1.5h-1.5zM65.8 77.2h1.5v1.5h-1.5zM66.5 76.7h1.5v1.5h-1.5zM69.3 76.3h1.5v1.5h-1.5zM72.9 73.3h1.5v1.5h-1.5zM74.5 70.1h1.5v1.5h-1.5zM69.1 71.9h1.5v1.5h-1.5zM70.7 70.6h1.5v1.5h-1.5zM71.3 70.4h1.5v1.5h-1.5zM75.6 76.8h1.5v1.5h-1.5zM74.7 71.9h1.5v1.5h-1.5zM75.7 76.5h1.5v1.5h-1.5zM71.3 72.3h1.5v1.5h-1.5zM70 73.9h1.5v1.5h-1.5zM75 73.9h1.5v1.5h-1.5zM72.7 73.9h1.5v1.5h-1.5zM76.9 74.4h1.5v1.5h-1.5zM80.3 75.5h1.5v1.5h-1.5zM83.8 74.7h1.5v1.5h-1.5zM81.8 75h1.5v1.5h-1.5zM82.7 76.4h1.5v1.5h-1.5zM80.3 75h1.5v1.5h-1.5zM79.2 70.8h1.5v1.5h-1.5zM77.1 74.6h1.5v1.5h-1.5zM84.3 70.3h1.5v1.5h-1.5zM85.8 75.1h1.5v1.5h-1.5zM85.4 71.7h1.5v1.5h-1.5zM86.4 73.8h1.5v1.5h-1.5zM86 76.4h1.5v1.5h-1.5zM88.2 77h1.5v1.5h-1.5zM84.4 76.9h1.5v1.5h-1.5zM86.9 75.7h1.5v1.5h-1.5zM85.2 70.7h1.5v1.5h-1.5zM92.4 71.6h1.5v1.5h-1.5zM95.5 73.1h1.5v1.5h-1.5zM98.4 71.8h1.5v1.5h-1.5zM98.9 70.2h1.5v1.5h-1.5zM95.4 75.1h1.5v1.5h-1.5zM105 71.3h1.5v1.5h-1.5zM99.6 77.3h1.5v1.5h-1.5zM104.3 71.7h1.5v1.5h-1.5zM101.8 72.1h1.5v1.5h-1.5zM101.5 71h1.5v1.5h-1.5zM106.8 73.9h1.5v1.5h-1.5zM105.9 70.2h1.5v1.5h-1.5zM104.8 75h1.5v1.5h-1.5zM113.7 74.1h1.5v1.5h-1.5zM108.5 70.4h1.5v1.5h-1.5zM114.4 72.8h1.5v1.5h-1.5zM113.2 75.9h1.5v1.5h-1.5zM110.4 69.6h1.5v1.5h-1.5zM114.9 75.7h1.5v1.5h-1.5zM107.4 72.1h1.5v1.5h-1.5zM122 73.8h1.5v1.5h-1.5zM116.1 75.1h1.5v1.5h-1.5zM65.6 78.9h1.5v1.5h-1.5zM61.8 84.4h1.5v1.5h-1.5zM63 84.4h1.5v1.5h-1.5zM67.2 78.8h1.5v1.5h-1.5zM73.6 79.7h1.5v1.5h-1.5zM71.5 82h1.5v1.5h-1.5zM70 81h1.5v1.5h-1.5zM72.9 78.7h1.5v1.5h-1.5zM72.9 79.9h1.5v1.5h-1.5zM73.7 78.5h1.5v1.5h-1.5zM72.1 80.6h1.5v1.5h-1.5zM75 84h1.5v1.5h-1.5zM72.9 84.4h1.5v1.5h-1.5zM79.6 84.4h1.5v1.5h-1.5zM81.9 84.4h1.5v1.5h-1.5zM82.1 79.7h1.5v1.5h-1.5zM77.2 80.8h1.5v1.5h-1.5zM76.7 82.8h1.5v1.5h-1.5zM78.6 80.4h1.5v1.5h-1.5zM79.5 83.6h1.5v1.5h-1.5zM85 81.5h1.5v1.5h-1.5zM85.9 79.7h1.5v1.5h-1.5zM90.9 83.7h1.5v1.5h-1.5zM91 78.9h1.5v1.5h-1.5zM92.1 78.2h1.5v1.5h-1.5zM98.7 84.2h1.5v1.5h-1.5zM97.1 84.7h1.5v1.5h-1.5zM93.5 79.7h1.5v1.5h-1.5zM94.6 82.5h1.5v1.5h-1.5zM93.5 79.7h1.5v1.5h-1.5zM95.2 81.5h1.5v1.5h-1.5zM100.2 79.6h1.5v1.5h-1.5zM107.2 77.6h1.5v1.5h-1.5zM102.5 84.6h1.5v1.5h-1.5zM103.8 82.4h1.5v1.5h-1.5zM104.8 81.4h1.5v1.5h-1.5zM105.5 78.6h1.5v1.5h-1.5zM109.1 81.2h1.5v1.5h-1.5zM111.1 77.6h1.5v1.5h-1.5zM111.7 84.2h1.5v1.5h-1.5zM115.1 81.2h1.5v1.5h-1.5zM65.2 89.4h1.5v1.5h-1.5zM61.9 87.6h1.5v1.5h-1.5zM65.6 89.3h1.5v1.5h-1.5zM61.4 91.6h1.5v1.5h-1.5zM61.2 88.4h1.5v1.5h-1.5zM76.1 86.3h1.5v1.5h-1.5zM68.8 87.1h1.5v1.5h-1.5zM71.5 87.5h1.5v1.5h-1.5zM68.8 93h1.5v1.5h-1.5zM70.3 87.2h1.5v1.5h-1.5zM72.1 92.5h1.5v1.5h-1.5zM73.5 85.6h1.5v1.5h-1.5zM75.2 89.8h1.5v1.5h-1.5zM77.9 87.9h1.5v1.5h-1.5zM77.5 86.8h1.5v1.5h-1.5zM78.6 88.7h1.5v1.5h-1.5zM82.9 86.8h1.5v1.5h-1.5zM81.6 88h1.5v1.5h-1.5zM81.8 87.3h1.5v1.5h-1.5zM83.5 88h1.5v1.5h-1.5zM83.3 85.3h1.5v1.5h-1.5zM88 85.6h1.5v1.5h-1.5zM84.3 86.4h1.5v1.5h-1.5zM86.4 88.5h1.5v1.5h-1.5zM89.5 87.2h1.5v1.5h-1.5zM85.1 86.8h1.5v1.5h-1.5zM87.1 88.2h1.5v1.5h-1.5zM86.3 87.9h1.5v1.5h-1.5zM98.5 87h1.5v1.5h-1.5zM94.3 89.1h1.5v1.5h-1.5zM94.9 88.9h1.5v1.5h-1.5zM93.6 85.9h1.5v1.5h-1.5zM100.7 89.8h1.5v1.5h-1.5zM66.2 93.2h1.5v1.5h-1.5zM61.2 96.2h1.5v1.5h-1.5zM65.3 96.7h1.5v1.5h-1.5zM60.9 95.8h1.5v1.5h-1.5zM62.8 98.3h1.5v1.5h-1.5zM65.5 100.5h1.5v1.5h-1.5zM68.1 99.1h1.5v1.5h-1.5zM75.3 96h1.5v1.5h-1.5zM69.6 97h1.5v1.5h-1.5zM76.1 94.2h1.5v1.5h-1.5zM71.6 94.9h1.5v1.5h-1.5zM70.9 98.7h1.5v1.5h-1.5zM76 99.5h1.5v1.5h-1.5zM72.3 97.5h1.5v1.5h-1.5zM82.1 97.2h1.5v1.5h-1.5zM78.8 94.4h1.5v1.5h-1.5zM76.7 93.6h1.5v1.5h-1.5zM77.1 96.6h1.5v1.5h-1.5zM77.5 99.8h1.5v1.5h-1.5zM78.2 97h1.5v1.5h-1.5zM81.8 95h1.5v1.5h-1.5zM80.6 96.3h1.5v1.5h-1.5zM82.7 99.3h1.5v1.5h-1.5zM81.4 94.9h1.5v1.5h-1.5zM80.8 100.4h1.5v1.5h-1.5zM89.3 96.3h1.5v1.5h-1.5zM84.9 93.4h1.5v1.5h-1.5zM91.7 94h1.5v1.5h-1.5zM88.2 96.8h1.5v1.5h-1.5zM90.2 99.6h1.5v1.5h-1.5zM88.8 99h1.5v1.5h-1.5zM89.4 97.3h1.5v1.5h-1.5zM62.1 101.7h1.5v1.5h-1.5zM64.5 101.8h1.5v1.5h-1.5zM65.1 102h1.5v1.5h-1.5zM62.5 104.7h1.5v1.5h-1.5zM61.1 101.4h1.5v1.5h-1.5zM62.3 107.7h1.5v1.5h-1.5zM67 104h1.5v1.5h-1.5zM69.4 101.5h1.5v1.5h-1.5zM74.9 106.9h1.5v1.5h-1.5zM75.9 104.1h1.5v1.5h-1.5zM75.5 101.1h1.5v1.5h-1.5zM79.1 105.9h1.5v1.5h-1.5zM83.3 103.4h1.5v1.5h-1.5zM82 102.6h1.5v1.5h-1.5zM81.5 102.3h1.5v1.5h-1.5zM77.8 107.8h1.5v1.5h-1.5zM78 104.1h1.5v1.5h-1.5zM78.4 106.2h1.5v1.5h-1.5zM77.7 103.7h1.5v1.5h-1.5zM88.9 103.9h1.5v1.5h-1.5zM88.8 107.9h1.5v1.5h-1.5zM89.3 104.5h1.5v1.5h-1.5zM87 102.7h1.5v1.5h-1.5zM88 101.1h1.5v1.5h-1.5zM64.5 87.6h1.5v1.5h-1.5zM56 78.2h1.5v1.5h-1.5zM62.4 68.9h1.5v1.5h-1.5zM60 78.1h1.5v1.5h-1.5zM58.1 76h1.5v1.5h-1.5zM60.4 83.1h1.5v1.5h-1.5zM58.8 76.1h1.5v1.5h-1.5zM69.3 90h1.5v1.5h-1.5zM55 75.2h1.5v1.5h-1.5zM60.9 90.8h1.5v1.5h-1.5zM71.9 74.3h1.5v1.5h-1.5zM60.6 67.4h1.5v1.5h-1.5zM55.3 81.4h1.5v1.5h-1.5zM45.9 93.9h1.5v1.5h-1.5zM62.5 78.1h1.5v1.5h-1.5zM66.7 77.1h1.5v1.5h-1.5zM50.9 73.5h1.5v1.5h-1.5zM54.3 71.3h1.5v1.5h-1.5z"/>
<path fill="#19D3F3" fill-opacity="0.82" d="M68.7 37.6h1.5v1.5h-1.5zM121.6 48.1h1.5v1.5h-1.5zM81.2 51.3h1.5v1.5h-1.5zM128.5 52.6h1.5v1.5h-1.5zM12.2 65.9h1.5v1.5h-1.5zM29.5 68.1h1.5v1.5h-1.5zM55.8 64.3h1.5v1.5h-1.5zM50.6 70.1h1.5v1.5h-1.5zM60.2 69.8h1.5v1.5h-1.5zM37.6 76.6h1.5v1.5h-1.5zM30.8 79.4h1.5v1.5h-1.5zM41 81.3h1.5v1.5h-1.5zM16.9 83.2h1.5v1.5h-1.5zM36.5 84.9h1.5v1.5h-1.5zM55.1 86.8h1.5v1.5h-1.5zM4.1 89.9h1.5v1.5h-1.5zM52.6 96h1.5v1.5h-1.5zM83.6 110.3h1.5v1.5h-1.5zM83.6 117.5h1.5v1.5h-1.5zM67.4 135.4h1.5v1.5h-1.5zM94.5 59.1h1.5v1.5h-1.5zM92.4 58.8h1.5v1.5h-1.5zM100.6 57.7h1.5v1.5h-1.5zM104.3 57.6h1.5v1.5h-1.5zM112 59.7h1.5v1.5h-1.5zM117.9 58.2h1.5v1.5h-1.5zM82.9 63.4h1.5v1.5h-1.5zM95.7 61.7h1.5v1.5h-1.5zM96.4 65.6h1.5v1.5h-1.5zM93.8 68.8h1.5v1.5h-1.5zM98.1 64.8h1.5v1.5h-1.5zM107.2 66.7h1.5v1.5h-1.5zM112.9 65.3h1.5v1.5h-1.5zM62.7 77.2h1.5v1.5h-1.5zM82.5 70h1.5v1.5h-1.5zM81.3 71.4h1.5v1.5h-1.5zM82.7 74.7h1.5v1.5h-1.5zM93.8 73.7h1.5v1.5h-1.5zM91.8 75.9h1.5v1.5h-1.5zM96 73.6h1.5v1.5h-1.5zM115.8 72.4h1.5v1.5h-1.5zM121.4 74.3h1.5v1.5h-1.5zM67.1 82h1.5v1.5h-1.5zM83.3 84.9h1.5v1.5h-1.5zM93.2 79.2h1.5v1.5h-1.5zM96.4 79.6h1.5v1.5h-1.5zM105.6 81.4h1.5v1.5h-1.5zM110.7 83.4h1.5v1.5h-1.5zM62 90.6h1.5v1.5h-1.5zM68.3 85.5h1.5v1.5h-1.5zM71.5 91.8h1.5v1.5h-1.5zM76.9 92.1h1.5v1.5h-1.5zM84.2 90.1h1.5v1.5h-1.5zM63.9 96.3h1.5v1.5h-1.5zM72.7 97.9h1.5v1.5h-1.5zM78.8 99h1.5v1.5h-1.5zM75.2 108.7h1.5v1.5h-1.5zM75.9 101h1.5v1.5h-1.5zM74.6 106.7h1.5v1.5h-1.5zM79.3 103.8h1.5v1.5h-1.5zM87.9 105.4h1.5v1.5h-1.5zM90.5 72.3h1.5v1.5h-1.5zM89.1 74.9h1.5v1.5h-1.5zM86.3 73.5h1.5v1.5h-1.5zM88.2 72.8h1.5v1.5h-1.5zM89.4 84h1.5v1.5h-1.5zM89.2 93.2h1.5v1.5h-1.5zM69.4 77.3h1.5v1.5h-1.5zM57.7 80.8h1.5v1.5h-1.5zM60.6 79.4h1.5v1.5h-1.5zM64.7 83.6h1.5v1.5h-1.5zM63.9 94.1h1.5v1.5h-1.5z"/>
<path fill="#00CC96" fill-opacity="0.82" d="M42.3 24.6h1.5v1.5h-1.5zM37.6 53.2h1.5v1.5h-1.5zM90.5 14.1h1.5v1.5h-1.5zM108.8 17.1h1.5v1.5h-1.5zM124.7 35.9h1.5v1.5h-1.5zM37.8 54.4h1.5v1.5h-1.5zM43.3 57.6h1.5v1.5h-1.5zM52.6 64.6h1.5v1.5h-1.5zM22.8 74.6h1.5v1.5h-1.5zM23.7 75.5h1.5v1.5h-1.5zM52.6 76.6h1.5v1.5h-1.5zM49.1 81.3h1.5v1.5h-1.5zM38.8 83.5h1.5v1.5h-1.5zM55.8 94.7h1.5v1.5h-1.5zM41 103.1h1.5v1.5h-1.5zM123.8 73h1.5v1.5h-1.5zM144.5 77.4h1.5v1.5h-1.5zM27.2 121.6h1.5v1.5h-1.5zM49.1 121.6h1.5v1.5h-1.5zM76.8 109.4h1.5v1.5h-1.5zM82.5 115.2h1.5v1.5h-1.5zM64 118.7h1.5v1.5h-1.5zM76.8 118.7h1.5v1.5h-1.5zM73.2 134.6h1.5v1.5h-1.5zM83.8 60.1h1.5v1.5h-1.5zM82 61.1h1.5v1.5h-1.5zM88.4 54.8h1.5v1.5h-1.5zM84.6 58h1.5v1.5h-1.5zM97.5 59.3h1.5v1.5h-1.5zM97.2 57.7h1.5v1.5h-1.5zM101 57.1h1.5v1.5h-1.5zM112.1 58.9h1.5v1.5h-1.5zM116 57.3h1.5v1.5h-1.5zM64.9 67.8h1.5v1.5h-1.5zM70.9 64.6h1.5v1.5h-1.5zM69.5 65h1.5v1.5h-1.5zM83.2 64.1h1.5v1.5h-1.5zM91.2 62.4h1.5v1.5h-1.5zM102.4 62.4h1.5v1.5h-1.5zM104.1 67.6h1.5v1.5h-1.5zM108.5 67.5h1.5v1.5h-1.5zM113 62h1.5v1.5h-1.5zM114.8 63.5h1.5v1.5h-1.5zM76.9 70.1h1.5v1.5h-1.5zM84.5 73.1h1.5v1.5h-1.5zM66.3 83.9h1.5v1.5h-1.5zM65.2 82.8h1.5v1.5h-1.5zM61 78.7h1.5v1.5h-1.5zM87.7 78.9h1.5v1.5h-1.5zM85.6 82.3h1.5v1.5h-1.5zM101.7 81.6h1.5v1.5h-1.5zM62.8 91.5h1.5v1.5h-1.5zM77.7 87.2h1.5v1.5h-1.5zM91.6 87.5h1.5v1.5h-1.5zM85.7 90.6h1.5v1.5h-1.5zM76 95.7h1.5v1.5h-1.5zM73.6 105.8h1.5v1.5h-1.5zM79.4 103.4h1.5v1.5h-1.5zM57.1 77.6h1.5v1.5h-1.5z"/>
<path fill="#EF553B" fill-opacity="0.82" d="M41 28.2h1.5v1.5h-1.5zM99.6 47.2h1.5v1.5h-1.5zM59.2 64.3h1.5v1.5h-1.5zM44.6 75.5h1.5v1.5h-1.5zM52.6 87.1h1.5v1.5h-1.5zM14.8 100.1h1.5v1.5h-1.5zM152.5 76.6h1.5v1.5h-1.5zM166.3 83.5h1.5v1.5h-1.5zM157.1 95.4h1.5v1.5h-1.5zM33.1 111.3h1.5v1.5h-1.5zM10 145.3h1.5v1.5h-1.5zM58.3 148.7h1.5v1.5h-1.5zM42.3 157.4h1.5v1.5h-1.5zM52.6 161.9h1.5v1.5h-1.5zM68.7 125.4h1.5v1.5h-1.5zM85.1 54h1.5v1.5h-1.5zM87.7 59.5h1.5v1.5h-1.5zM62.4 68.7h1.5v1.5h-1.5zM85.4 63.2h1.5v1.5h-1.5zM79.5 70.6h1.5v1.5h-1.5zM88.1 73.5h1.5v1.5h-1.5zM98.5 73.5h1.5v1.5h-1.5zM100.3 72.6h1.5v1.5h-1.5zM63.5 81h1.5v1.5h-1.5zM65.1 79.4h1.5v1.5h-1.5zM74.4 83.2h1.5v1.5h-1.5zM88.5 77.7h1.5v1.5h-1.5zM86.4 81.2h1.5v1.5h-1.5zM87.7 78.7h1.5v1.5h-1.5zM93.9 82.3h1.5v1.5h-1.5zM61.4 102.3h1.5v1.5h-1.5zM77.1 108.7h1.5v1.5h-1.5zM85.5 82.2h1.5v1.5h-1.5zM97.7 83.8h1.5v1.5h-1.5zM88 85h1.5v1.5h-1.5z"/>
<path fill="#FFA15A" fill-opacity="0.82" d="M7.7 21.8h1.5v1.5h-1.5zM119 26.3h1.5v1.5h-1.5zM68.7 29.2h1.5v1.5h-1.5zM71 40.4h1.5v1.5h-1.5zM29.5 77.4h1.5v1.5h-1.5zM37.6 79h1.5v1.5h-1.5zM19.2 84.9h1.5v1.5h-1.5zM36.5 83h1.5v1.5h-1.5zM5.4 91.8h1.5v1.5h-1.5zM20.3 103.1h1.5v1.5h-1.5zM33.1 108.2h1.5v1.5h-1.5zM135.2 70.7h1.5v1.5h-1.5zM33.1 109.1h1.5v1.5h-1.5zM18.2 132.8h1.5v1.5h-1.5zM19.2 135.7h1.5v1.5h-1.5zM79.1 114.9h1.5v1.5h-1.5zM75.5 120h1.5v1.5h-1.5zM75.9 60.4h1.5v1.5h-1.5zM91.1 55.4h1.5v1.5h-1.5zM89.4 61.3h1.5v1.5h-1.5zM109.6 60h1.5v1.5h-1.5zM87.1 67h1.5v1.5h-1.5zM75.3 71.7h1.5v1.5h-1.5zM78.5 77.1h1.5v1.5h-1.5zM89.1 71.3h1.5v1.5h-1.5zM94.2 71.9h1.5v1.5h-1.5zM105.9 74.6h1.5v1.5h-1.5zM88.4 84.4h1.5v1.5h-1.5zM76.1 90h1.5v1.5h-1.5zM95.1 88.3h1.5v1.5h-1.5zM73.8 94.9h1.5v1.5h-1.5zM91.2 100.8h1.5v1.5h-1.5zM74.1 102.3h1.5v1.5h-1.5zM70.9 104.9h1.5v1.5h-1.5zM79 104.3h1.5v1.5h-1.5zM82.1 70.4h1.5v1.5h-1.5zM81.8 68.5h1.5v1.5h-1.5zM83.5 74.7h1.5v1.5h-1.5zM85.3 74h1.5v1.5h-1.5zM84.5 81.5h1.5v1.5h-1.5zM88.7 79.3h1.5v1.5h-1.5zM84.5 73.1h1.5v1.5h-1.5zM87.2 72.6h1.5v1.5h-1.5zM91.9 73.5h1.5v1.5h-1.5zM89.4 73.3h1.5v1.5h-1.5zM87.8 81.9h1.5v1.5h-1.5zM92.1 72.8h1.5v1.5h-1.5zM84.5 75.8h1.5v1.5h-1.5zM88.1 75.4h1.5v1.5h-1.5zM90.4 74.4h1.5v1.5h-1.5zM83.6 80h1.5v1.5h-1.5zM84.3 77.7h1.5v1.5h-1.5zM93.6 77.4h1.5v1.5h-1.5zM85.7 67.8h1.5v1.5h-1.5zM86.4 71.2h1.5v1.5h-1.5zM86.7 74.3h1.5v1.5h-1.5zM87.7 73.6h1.5v1.5h-1.5zM92.4 70.8h1.5v1.5h-1.5zM83.4 77.5h1.5v1.5h-1.5zM89.7 77.7h1.5v1.5h-1.5zM88.1 75.9h1.5v1.5h-1.5zM95.6 78.8h1.5v1.5h-1.5zM99.2 80.3h1.5v1.5h-1.5zM94 71.3h1.5v1.5h-1.5zM108.6 81.6h1.5v1.5h-1.5zM96.3 80.4h1.5v1.5h-1.5zM100.4 76.9h1.5v1.5h-1.5zM106 81.3h1.5v1.5h-1.5zM91.7 79.6h1.5v1.5h-1.5zM97.5 73.1h1.5v1.5h-1.5zM98.9 78.2h1.5v1.5h-1.5zM102.6 83.4h1.5v1.5h-1.5zM102.4 78.9h1.5v1.5h-1.5zM98 76.5h1.5v1.5h-1.5zM96.9 80.2h1.5v1.5h-1.5zM107.6 78.9h1.5v1.5h-1.5zM95.3 79.4h1.5v1.5h-1.5zM84.4 92.2h1.5v1.5h-1.5zM85.9 83.1h1.5v1.5h-1.5zM84.7 91.6h1.5v1.5h-1.5zM83.1 88.2h1.5v1.5h-1.5zM85.5 95.4h1.5v1.5h-1.5zM86.7 87.5h1.5v1.5h-1.5zM87 92.7h1.5v1.5h-1.5zM88.4 83.3h1.5v1.5h-1.5zM85.1 91.6h1.5v1.5h-1.5zM89.7 86.6h1.5v1.5h-1.5zM83.5 88.4h1.5v1.5h-1.5zM86.8 85.7h1.5v1.5h-1.5zM84 85.3h1.5v1.5h-1.5zM84.2 83.7h1.5v1.5h-1.5zM86.9 86.9h1.5v1.5h-1.5zM77 89h1.5v1.5h-1.5zM78 84.4h1.5v1.5h-1.5zM77.8 88h1.5v1.5h-1.5zM79.4 89.4h1.5v1.5h-1.5zM78.8 88.3h1.5v1.5h-1.5zM77.4 90.1h1.5v1.5h-1.5zM86.6 98.7h1.5v1.5h-1.5zM85.3 96.1h1.5v1.5h-1.5zM88.5 97.3h1.5v1.5h-1.5zM88.4 95.9h1.5v1.5h-1.5z"/>
<g transform="translate(117.9,119.8) rotate(-41.7)"><rect x="-22" y="-5.2" width="44" height="10.4" fill="#fff"/><text class="tb" x="0" y="2.3" text-anchor="middle">Tokyo Bay</text></g>
<text class="ax" transform="translate(8,-1.8) scale(0.89,1)" text-anchor="middle">139.3°E</text><text class="ax" transform="translate(8,170.6) scale(0.89,1)" text-anchor="middle">139.3°E</text>
<text class="ax" transform="translate(63.2,-1.8) scale(0.89,1)" text-anchor="middle">139.6°E</text><text class="ax" transform="translate(63.2,170.6) scale(0.89,1)" text-anchor="middle">139.6°E</text>
<text class="ax" transform="translate(118.4,-1.8) scale(0.89,1)" text-anchor="middle">139.9°E</text><text class="ax" transform="translate(118.4,170.6) scale(0.89,1)" text-anchor="middle">139.9°E</text>
<text class="ax" transform="translate(173.6,-1.8) scale(0.89,1)" text-anchor="middle">140.2°E</text><text class="ax" transform="translate(173.6,170.6) scale(0.89,1)" text-anchor="middle">140.2°E</text>
<text class="ax" transform="translate(-1.4,54.1) rotate(-90) scale(0.98,1.05)" text-anchor="middle">35.8°N</text>
<text class="ax" transform="translate(-1.4,122.3) rotate(-90) scale(0.98,1.05)" text-anchor="middle">35.5°N</text>
<use href="#side"/>
<text class="cap" transform="translate(-10.8,191.3) scale(1.05,1)">(<tspan>c</tspan>) Child welfare facilities</text>
</g>
<g transform="translate(288.2,232.5)">
<use href="#base"/>
<path fill="#AB63FA" fill-opacity="0.82" d="M72.1 22.5h1.5v1.5h-1.5zM58.6 45.2h1.5v1.5h-1.5zM25.2 82.3h1.5v1.5h-1.5zM58.6 90.8h1.5v1.5h-1.5zM77.9 111.3h1.5v1.5h-1.5zM68.7 116.9h1.5v1.5h-1.5zM27.5 123.3h1.5v1.5h-1.5zM65.4 132h1.5v1.5h-1.5zM42.6 139.3h1.5v1.5h-1.5zM148.1 89.5h1.5v1.5h-1.5z"/>
<path fill="#19D3F3" fill-opacity="0.82" d="M61.9 53.9h1.5v1.5h-1.5zM68.7 76.5h1.5v1.5h-1.5zM107.5 65.8h1.5v1.5h-1.5zM96.3 67.8h1.5v1.5h-1.5zM72.1 104h1.5v1.5h-1.5zM64.2 136.8h1.5v1.5h-1.5zM65.4 143.2h1.5v1.5h-1.5z"/>
<path fill="#00CC96" fill-opacity="0.82" d="M52.8 40.3h1.5v1.5h-1.5zM71 43.6h1.5v1.5h-1.5zM37.7 53.9h1.5v1.5h-1.5zM84.7 51.9h1.5v1.5h-1.5zM87.4 64.5h1.5v1.5h-1.5zM90.9 74.5h1.5v1.5h-1.5zM55.1 80h1.5v1.5h-1.5zM93.6 13.3h1.5v1.5h-1.5zM99.8 73.2h1.5v1.5h-1.5zM86.1 96.2h1.5v1.5h-1.5zM36.8 123.3h1.5v1.5h-1.5zM31 135.9h1.5v1.5h-1.5zM168.8 107.2h1.5v1.5h-1.5z"/>
<path fill="#EF553B" fill-opacity="0.82" d="M90.9 13.3h1.5v1.5h-1.5zM66.7 23.5h1.5v1.5h-1.5zM67.7 29.1h1.5v1.5h-1.5zM72.1 67.8h1.5v1.5h-1.5zM83.5 68.7h1.5v1.5h-1.5zM51.3 69.9h1.5v1.5h-1.5zM74.5 74.5h1.5v1.5h-1.5zM81.2 77.4h1.5v1.5h-1.5zM97.5 33h1.5v1.5h-1.5zM99.8 47.1h1.5v1.5h-1.5zM123 70.7h1.5v1.5h-1.5zM95 72.6h1.5v1.5h-1.5zM40.2 83.1h1.5v1.5h-1.5zM80.3 84h1.5v1.5h-1.5zM51.6 87.1h1.5v1.5h-1.5zM44.9 98.2h1.5v1.5h-1.5zM64.2 99.1h1.5v1.5h-1.5zM14.5 100.1h1.5v1.5h-1.5zM83.5 107.4h1.5v1.5h-1.5zM57.4 111.3h1.5v1.5h-1.5zM81.6 114.2h1.5v1.5h-1.5zM24.2 133h1.5v1.5h-1.5zM70.2 133.9h1.5v1.5h-1.5zM50.3 143.2h1.5v1.5h-1.5zM26.1 158.1h1.5v1.5h-1.5zM42.6 157.1h1.5v1.5h-1.5zM66.7 158.1h1.5v1.5h-1.5zM52.8 162h1.5v1.5h-1.5zM166.5 83.1h1.5v1.5h-1.5z"/>
<path fill="#FFA15A" fill-opacity="0.82" d="M60.9 13.3h1.5v1.5h-1.5zM41.2 24.5h1.5v1.5h-1.5zM71 39.4h1.5v1.5h-1.5zM56.1 54.8h1.5v1.5h-1.5zM82.6 64.1h1.5v1.5h-1.5zM56.1 71.8h1.5v1.5h-1.5zM27.5 72.6h1.5v1.5h-1.5zM90.9 77.4h1.5v1.5h-1.5zM112.4 46.1h1.5v1.5h-1.5zM99.8 59.7h1.5v1.5h-1.5zM111 74.5h1.5v1.5h-1.5zM133 77.1h1.5v1.5h-1.5zM10.1 84h1.5v1.5h-1.5zM90.9 86.2h1.5v1.5h-1.5zM72.1 88.1h1.5v1.5h-1.5zM20.7 104.9h1.5v1.5h-1.5zM33.3 110.3h1.5v1.5h-1.5zM77.9 118.8h1.5v1.5h-1.5zM67.7 126.6h1.5v1.5h-1.5zM61.9 130.1h1.5v1.5h-1.5zM18 133.9h1.5v1.5h-1.5zM10.1 143.2h1.5v1.5h-1.5zM54.2 151.7h1.5v1.5h-1.5zM16.1 158.1h1.5v1.5h-1.5zM93.6 83.1h1.5v1.5h-1.5zM101.7 82.3h1.5v1.5h-1.5zM158.2 96.2h1.5v1.5h-1.5zM155.9 97.2h1.5v1.5h-1.5z"/>
<g transform="translate(117.9,119.8) rotate(-41.7)"><rect x="-22" y="-5.2" width="44" height="10.4" fill="#fff"/><text class="tb" x="0" y="2.3" text-anchor="middle">Tokyo Bay</text></g>
<text class="ax" transform="translate(8,-1.8) scale(0.89,1)" text-anchor="middle">139.3°E</text><text class="ax" transform="translate(8,170.6) scale(0.89,1)" text-anchor="middle">139.3°E</text>
<text class="ax" transform="translate(63.2,-1.8) scale(0.89,1)" text-anchor="middle">139.6°E</text><text class="ax" transform="translate(63.2,170.6) scale(0.89,1)" text-anchor="middle">139.6°E</text>
<text class="ax" transform="translate(118.4,-1.8) scale(0.89,1)" text-anchor="middle">139.9°E</text><text class="ax" transform="translate(118.4,170.6) scale(0.89,1)" text-anchor="middle">139.9°E</text>
<text class="ax" transform="translate(173.6,-1.8) scale(0.89,1)" text-anchor="middle">140.2°E</text><text class="ax" transform="translate(173.6,170.6) scale(0.89,1)" text-anchor="middle">140.2°E</text>
<text class="ax" transform="translate(-1.4,54.1) rotate(-90) scale(0.98,1.05)" text-anchor="middle">35.8°N</text>
<text class="ax" transform="translate(-1.4,122.3) rotate(-90) scale(0.98,1.05)" text-anchor="middle">35.5°N</text>
<use href="#side"/>
<text class="cap" transform="translate(-10.8,191.3) scale(1.057,1)">(<tspan>d</tspan>) Municipal offices</text>
</g>
</svg>
</body></html>
